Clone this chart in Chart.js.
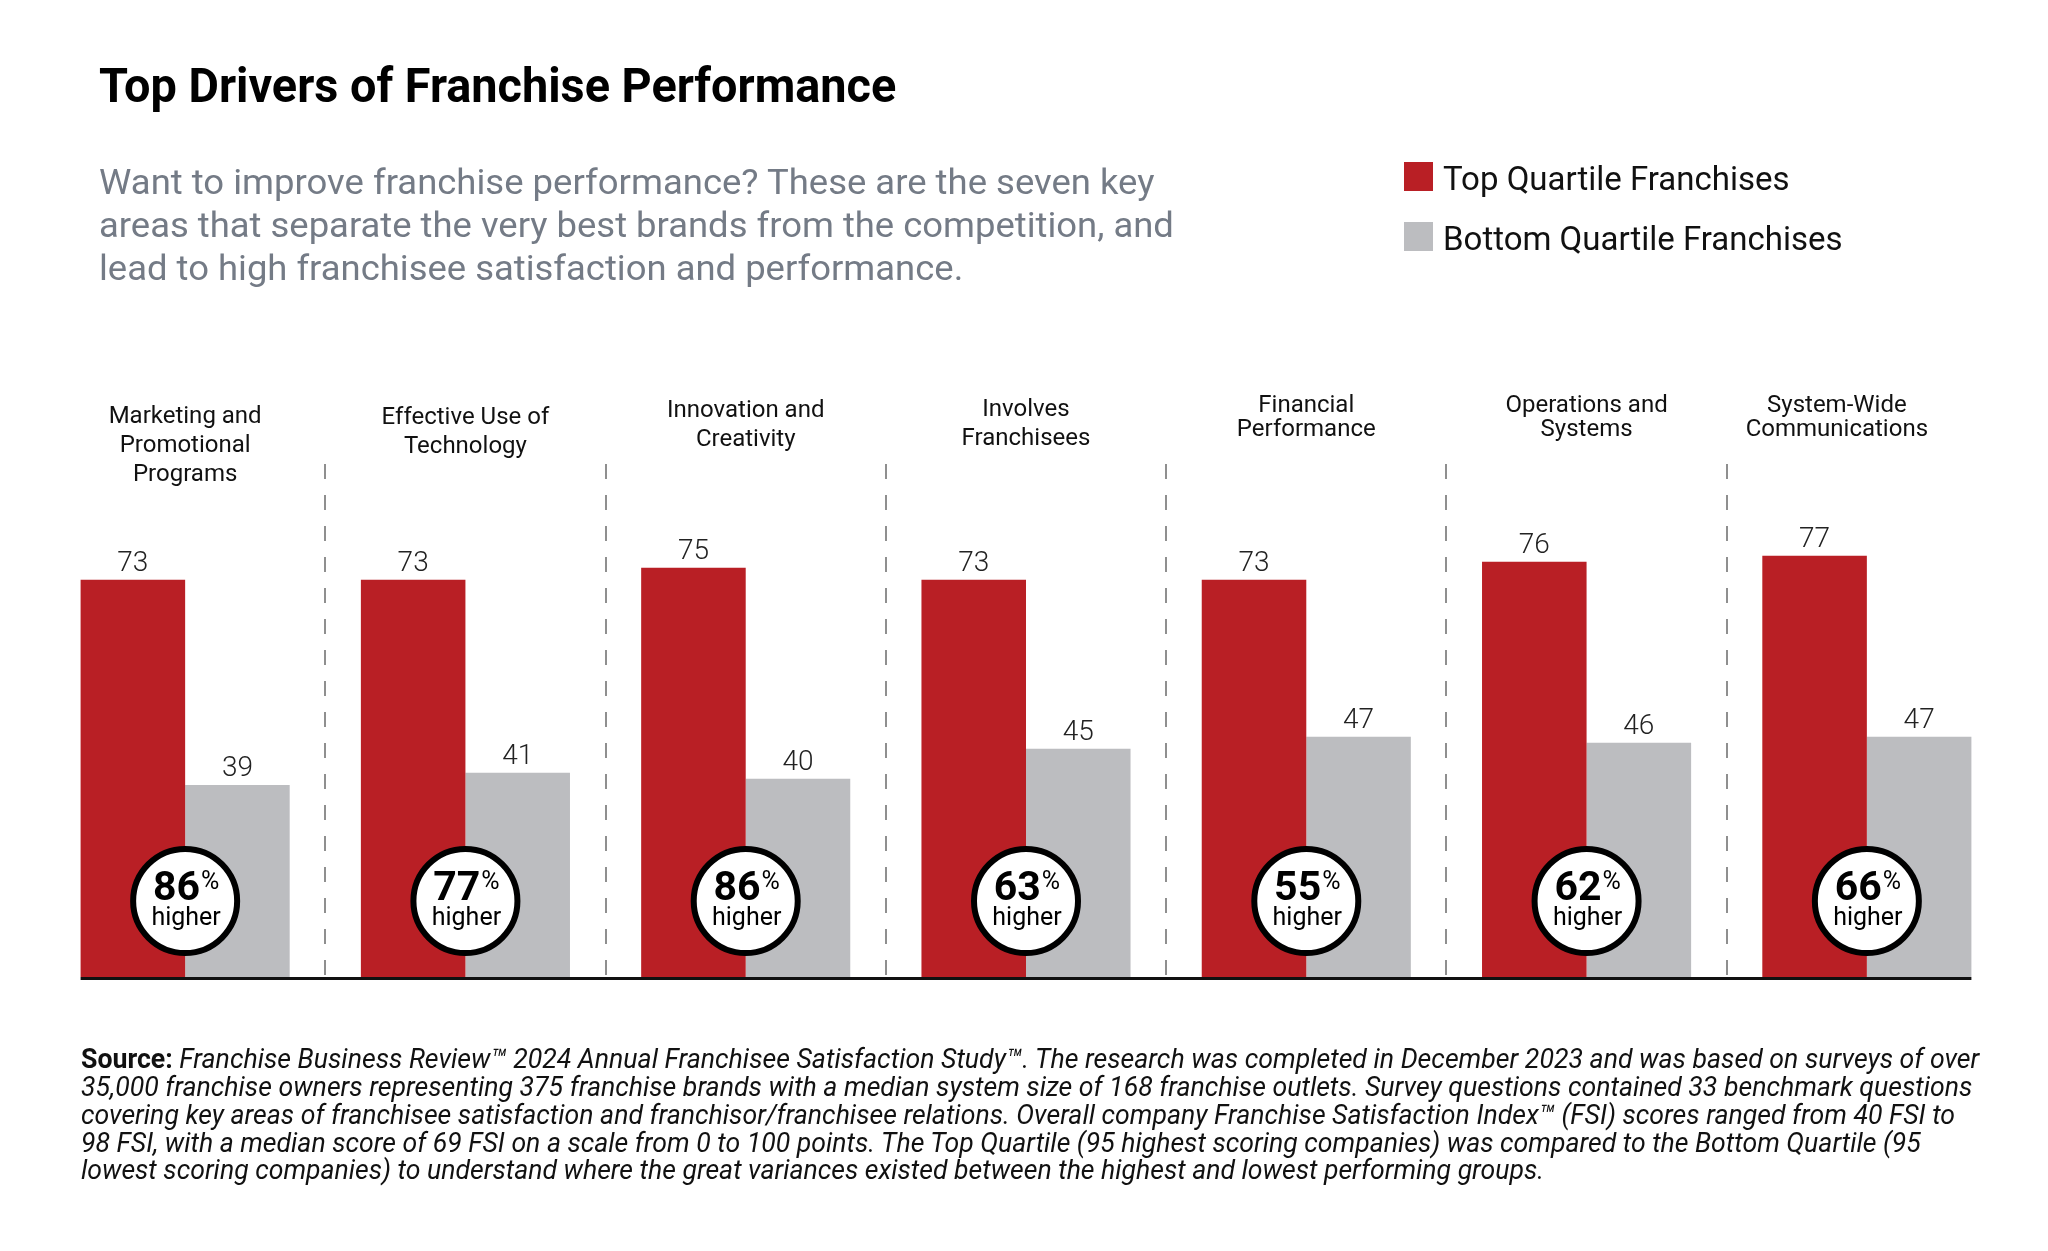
<!DOCTYPE html>
<html>
<head>
<meta charset="utf-8">
<title>Top Drivers of Franchise Performance</title>
<script src="https://cdn.jsdelivr.net/npm/chart.js@4/dist/chart.umd.min.js"></script>
<style>
  body { margin: 0; background: #fff; width: 2048px; height: 1251px; overflow: hidden; position: relative; font-family: Roboto, sans-serif; }
  #chart { position: absolute; left: 0; top: 0; }
  .line { position: absolute; white-space: nowrap; line-height: 1; transform-origin: 0 0; }
  .title { font-weight: bold; font-size: 48px; color: #000; }
  .sub { font-size: 35px; color: #747b86; }
  .leg { font-size: 33px; color: #111; }
  .box { position: absolute; width: 29px; height: 29px; }
  .src { font-size: 27px; font-style: italic; color: #111; }
  .src b { font-style: normal; }
</style>
</head>
<body>
<canvas id="chart" width="2048" height="1251"></canvas>

<div class="line title" style="left:99px;top:62px" data-w="797">Top Drivers of Franchise Performance</div>

<div class="line sub" style="left:99px;top:165px" data-w="1056">Want to improve franchise performance? These are the seven key</div>
<div class="line sub" style="left:99px;top:208px" data-w="1075">areas that separate the very best brands from the competition, and</div>
<div class="line sub" style="left:99px;top:251px" data-w="864">lead to high franchisee satisfaction and performance.</div>

<div id="legend"></div>

<div class="line src" style="left:81px;top:1046px" data-w="1898"><b>Source:</b> Franchise Business Review™ 2024 Annual Franchisee Satisfaction Study™. The research was completed in December 2023 and was based on surveys of over</div>
<div class="line src" style="left:81px;top:1074px" data-w="1891">35,000 franchise owners representing 375 franchise brands with a median system size of 168 franchise outlets. Survey questions contained 33 benchmark questions</div>
<div class="line src" style="left:81px;top:1102px" data-w="1874">covering key areas of franchisee satisfaction and franchisor/franchisee relations. Overall company Franchise Satisfaction Index™ (FSI) scores ranged from 40 FSI to</div>
<div class="line src" style="left:81px;top:1130px" data-w="1840">98 FSI, with a median score of 69 FSI on a scale from 0 to 100 points. The Top Quartile (95 highest scoring companies) was compared to the Bottom Quartile (95</div>
<div class="line src" style="left:81px;top:1157px" data-w="1463">lowest scoring companies) to understand where the great variances existed between the highest and lowest performing groups.</div>

<script>
const categories = [
    ['Marketing and', 'Promotional', 'Programs'],
    ['Effective Use of', 'Technology'],
    ['Innovation and', 'Creativity'],
    ['Involves', 'Franchisees'],
    ['Financial', 'Performance'],
    ['Operations and', 'Systems'],
    ['System-Wide', 'Communications']
];
const topQuartile = [73, 73, 75, 73, 73, 76, 77];
const bottomQuartile = [39, 41, 40, 45, 47, 46, 47];
const pctHigher = [86, 77, 86, 63, 55, 62, 66];
const seriesNames = ['Top Quartile Franchises', 'Bottom Quartile Franchises'];

const RED = '#b91f25';
const GRAY = '#bcbdc0';
const seriesColors = [RED, GRAY];

// category label placement: [first line center y, line height]
const labelLayout = [[417, 29], [418, 29], [411, 29], [410, 29], [406, 24], [406, 24], [406, 24]];
const labelShift = [0, 0, 0, 0, 0, 0, -30];

const renderLegend = () => {
    const legend = document.getElementById('legend');
    legend.innerHTML = seriesNames.map((name, i) => `
        <div class="box" style="left:1404px;top:${162 + i * 60}px;background:${seriesColors[i]}"></div>
        <div class="line leg" style="left:1443px;top:${162 + i * 60}px">${name}</div>
    `).join('');
};

const fitLines = () => {
    document.querySelectorAll('[data-w]').forEach(el => {
        const w = el.offsetWidth;
        el.style.transform = `scaleX(${el.dataset.w / w})`;
    });
};

const categoryLabels = {
    id: 'categoryLabels',
    afterDraw(chart) {
        const ctx = chart.ctx;
        const x = chart.scales.x;
        ctx.save();
        ctx.font = '24px Roboto';
        ctx.fillStyle = '#111';
        ctx.textAlign = 'center';
        ctx.textBaseline = 'middle';
        categories.forEach((lines, i) => {
            const cx = x.getPixelForValue(i) + labelShift[i];
            const [top, lh] = labelLayout[i];
            lines.forEach((txt, j) => ctx.fillText(txt, cx, top + j * lh));
        });
        ctx.restore();
    }
};

const barExtras = {
    id: 'barExtras',
    afterDatasetsDraw(chart) {
        const ctx = chart.ctx;
        const redBars = chart.getDatasetMeta(0).data;
        const grayBars = chart.getDatasetMeta(1).data;
        const bottom = chart.chartArea.bottom;
        ctx.save();

        // value labels
        ctx.font = '300 28px Roboto';
        ctx.fillStyle = '#222';
        ctx.textAlign = 'center';
        ctx.textBaseline = 'alphabetic';
        chart.data.datasets.forEach((ds, di) => {
            chart.getDatasetMeta(di).data.forEach((bar, i) => {
                ctx.fillText(ds.data[i], bar.x, bar.y - 9);
            });
        });

        // baseline
        const first = redBars[0];
        const last = grayBars[grayBars.length - 1];
        ctx.beginPath();
        ctx.moveTo(first.x - first.width / 2, bottom + 1.5);
        ctx.lineTo(last.x + last.width / 2, bottom + 1.5);
        ctx.lineWidth = 3;
        ctx.strokeStyle = '#111';
        ctx.stroke();

        // "% higher" badges
        pctHigher.forEach((p, i) => {
            const cx = (redBars[i].x + grayBars[i].x) / 2;
            const cy = bottom - 76;
            ctx.beginPath();
            ctx.arc(cx, cy, 52, 0, Math.PI * 2);
            ctx.fillStyle = '#fff';
            ctx.fill();
            ctx.lineWidth = 6;
            ctx.strokeStyle = '#000';
            ctx.stroke();

            ctx.fillStyle = '#000';
            ctx.textAlign = 'left';
            ctx.font = 'bold 41px Roboto';
            const num = String(p);
            const numW = ctx.measureText(num).width;
            ctx.font = '25px Roboto';
            const pctW = ctx.measureText('%').width;
            const x0 = cx - (numW + pctW + 1) / 2 + 1;
            ctx.font = 'bold 41px Roboto';
            ctx.fillText(num, x0, cy - 1);
            ctx.font = '25px Roboto';
            ctx.fillText('%', x0 + numW + 1, cy - 12);

            ctx.textAlign = 'center';
            ctx.font = '25px Roboto';
            ctx.fillText('higher', cx + 1, cy + 24);
        });
        ctx.restore();
    }
};

const renderChart = () => {
    const config = {
        type: 'bar',
        data: {
            labels: categories,
            datasets: seriesNames.map((name, i) => ({
                label: name,
                data: i === 0 ? topQuartile : bottomQuartile,
                backgroundColor: seriesColors[i],
                borderWidth: 0,
                categoryPercentage: 0.746,
                barPercentage: 1
            }))
        },
        options: {
            responsive: false,
            animation: false,
            layout: { padding: { left: 45, right: 41, top: 464, bottom: 274 } },
            plugins: {
                legend: { display: false },
                tooltip: { enabled: false }
            },
            scales: {
                x: {
                    ticks: { display: false },
                    grid: {
                        offset: true,
                        drawTicks: false,
                        lineWidth: 2,
                        color: (c) => (c.type !== 'tick' || c.index === 0) ? 'rgba(0,0,0,0)' : '#8f8f8f'
                    },
                    border: { display: false, dash: [15, 16] }
                },
                y: {
                    display: false,
                    min: 7.15,
                    max: 92.2
                }
            }
        },
        plugins: [categoryLabels, barExtras]
    };
    new Chart(document.getElementById('chart'), config);
};

renderLegend();
document.fonts.ready.then(() => {
    fitLines();
    renderChart();
});
</script>
</body>
</html>
